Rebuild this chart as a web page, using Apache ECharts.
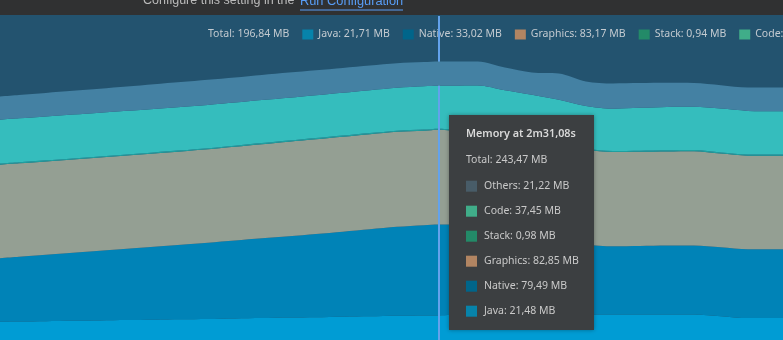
<!DOCTYPE html>
<html>
<head>
<meta charset="utf-8">
<script src="https://cdn.jsdelivr.net/npm/echarts@6/dist/echarts.min.js"></script>
<style>
html,body{margin:0;padding:0;background:#23536f;}
#chart{width:783px;height:340px;}
</style>
</head>
<body>
<div id="chart"></div>
<script>
// time in seconds
var times = [118,120,122,124,126,128,130,132,134,136,138,140,142,144,146,148,150,151.08,152,154,156,158,160,162,164,166,168,170,172,174,176,178];
var java = [15.87,16.22,16.48,16.83,17.09,17.44,17.78,18.05,18.39,18.83,19.18,19.62,19.96,20.40,20.75,21.18,21.53,21.48,21.79,21.88,21.97,21.97,22.06,22.14,22.23,22.23,22.32,22.32,20.84,19.18,19.18,19.18];
var nativeMem = [55.10,56.49,57.97,59.46,60.94,62.33,63.73,65.30,66.69,68.17,69.74,71.14,72.79,74.36,76.11,77.76,78.81,79.49,79.16,78.81,75.06,70.88,66.60,61.46,59.80,59.98,60.24,60.33,60.15,60.15,60.15,60.15];
var graphics = [81.87,81.79,81.70,81.52,81.44,81.52,81.52,81.52,81.70,81.96,82.31,82.66,82.83,83.00,83.09,83.18,82.66,82.85,82.31,82.31,82.31,82.31,82.57,82.74,82.31,82.31,82.31,82.48,82.05,81.87,81.87,81.87];
var stack = [0.95,0.95,0.95,0.95,0.95,0.95,0.95,0.95,0.95,0.95,0.95,0.95,0.95,0.95,0.95,0.95,0.95,0.98,0.95,0.95,0.95,0.95,0.95,0.95,0.95,0.95,0.95,0.95,0.95,0.95,0.95,0.95];
var code = [38.36,38.36,38.36,38.36,38.36,38.18,38.10,37.92,37.75,37.66,37.57,37.49,37.49,37.49,37.49,37.49,37.84,37.45,38.18,38.62,38.10,38.27,37.84,37.31,36.96,37.57,38.01,37.92,38.36,38.18,37.84,37.75];
var others = [20.31,20.49,20.57,20.75,20.92,21.18,21.53,21.79,22.06,22.06,22.06,22.06,21.88,21.71,21.53,21.36,21.18,21.22,21.10,20.92,19.79,19.44,22.93,21.45,22.06,21.62,21.01,20.75,20.49,20.49,20.84,20.92];

// legend (current values)
var legendNames = ['Total','Java','Native','Graphics','Stack','Code','Others'];
var legendValues = ['196,84 MB','21,71 MB','33,02 MB','83,17 MB','0,94 MB','37,42 MB','20,58 MB'];

// tooltip at cursor
var cursorTime = 151.08;
var tipTitle = 'Memory at 2m31,08s';
var tipTotal = 'Total: 243,47 MB';
var tipNames = ['Others','Code','Stack','Graphics','Native','Java'];
var tipValues = ['21,22 MB','37,45 MB','0,98 MB','82,85 MB','79,49 MB','21,48 MB'];

var areaColors = {Java:'#009cd4', Native:'#0083b7', Graphics:'#949f93', Stack:'#1f9f9f', Code:'#35bdbd', Others:'#4481a3'};
var iconColors = {Java:'#0783aa', Native:'#00658a', Graphics:'#b28562', Stack:'#238a68', Code:'#40ad89', Others:'#485c68'};

function pairs(arr){ return arr.map(function(v,i){ return [times[i] * 1000, v]; }); }

var FONT = '"Noto Sans", "DejaVu Sans", sans-serif';

function areaSeries(name, arr, extra){
  var s = {
    name: name, type: 'line', stack: 'mem', data: pairs(arr),
    showSymbol: false, symbol: 'none', smooth: 0.3,
    lineStyle: {width: 0}, areaStyle: {color: areaColors[name], opacity: 1},
    itemStyle: {color: areaColors[name]}, animation: false, silent: true
  };
  if (extra) for (var k in extra) s[k] = extra[k];
  return s;
}

var legendData = legendNames.map(function(n){
  if (n === 'Total') return {name: n, icon: 'rect', itemStyle: {color: 'rgba(0,0,0,0)', opacity: 0}};
  return {name: n, icon: 'rect', itemStyle: {color: iconColors[n]}};
});

var tipGraphics = [];
tipGraphics.push({type:'rect', shape:{x:449, y:115, width:145, height:215}, style:{fill:'#3c3f41', shadowBlur:4, shadowColor:'rgba(0,0,0,0.35)'}, z:100});
tipGraphics.push({type:'text', x:466, y:134, style:{text: tipTitle, fill:'#d9d9d9', font:'600 10.8px ' + FONT, verticalAlign:'middle'}, z:101});
tipGraphics.push({type:'text', x:466, y:160.5, style:{text: tipTotal, fill:'#c9c9c9', font:'10.5px ' + FONT, verticalAlign:'middle'}, z:101});
tipNames.forEach(function(n, i){
  var cy = 186.2 + i*25;
  tipGraphics.push({type:'rect', shape:{x:466, y:cy-5.5, width:11, height:11}, style:{fill: iconColors[n]}, z:101});
  tipGraphics.push({type:'text', x:484, y:cy, style:{text: n + ': ' + tipValues[i], fill:'#c9c9c9', font:'10.5px ' + FONT, verticalAlign:'middle'}, z:101});
});

var bannerGraphics = [
  {type:'rect', shape:{x:0, y:0, width:783, height:15}, style:{fill:'#303132'}, z:100},
  {type:'text', x:143, y:1, style:{text:'Configure this setting in the', fill:'#bbbbbb', font:'12.5px "Liberation Sans", Arial, sans-serif', verticalAlign:'middle'}, z:101},
  {type:'text', x:300, y:1, style:{text:'Run Configuration', fill:'#589df6', font:'12.8px "Liberation Sans", Arial, sans-serif', verticalAlign:'middle'}, z:101},
  {type:'line', shape:{x1:300, y1:10, x2:403, y2:10}, style:{stroke:'#589df6', lineWidth:1}, z:101}
];

var chart = echarts.init(document.getElementById('chart'), null, {renderer:'canvas'});
chart.setOption({
  animation: false,
  backgroundColor: '#23536f',
  grid: {left: 0, right: 0, top: 16, height: 325},
  xAxis: {type: 'time', min: 118600, max: 176600, show: false},
  yAxis: {type: 'value', min: 0, max: 283.3, show: false},
  legend: {
    left: 187, top: 24, width: 3000, orient: 'horizontal', padding: 5,
    itemWidth: 11, itemHeight: 10, itemGap: 13, selectedMode: false,
    textStyle: {color: '#c3cad0', fontFamily: FONT, fontSize: 10.5},
    formatter: function(name){ return name + ': ' + legendValues[legendNames.indexOf(name)]; },
    data: legendData
  },
  series: [
    {name: 'Total', type: 'line', data: [], showSymbol: false},
    areaSeries('Java', java),
    areaSeries('Native', nativeMem),
    areaSeries('Graphics', graphics),
    areaSeries('Stack', stack),
    areaSeries('Code', code),
    areaSeries('Others', others, {
      z: 6,
      markLine: {
        silent: true, symbol: ['none','none'], label: {show: false},
        lineStyle: {color: '#63a2ec', width: 2, type: 'solid'},
        data: [{xAxis: cursorTime * 1000}]
      }
    })
  ],
  graphic: bannerGraphics.concat(tipGraphics)
});
</script>
</body>
</html>
